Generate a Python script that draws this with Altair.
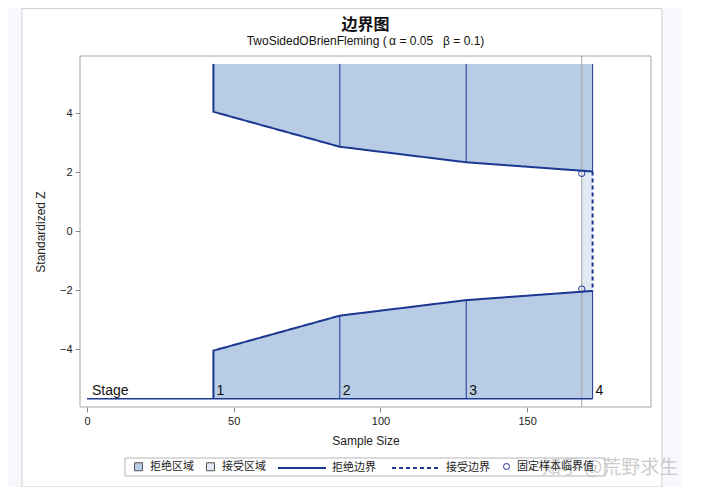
import altair as alt
import pandas as pd

# ---- data ----
stages = [1, 2, 3, 4]
sample_sizes = [43.08, 86.15, 129.23, 172.3]
upper_z = [4.049, 2.863, 2.337, 2.024]
lower_z = [-4.049, -2.863, -2.337, -2.024]
fixed_n = 168.6
fixed_crit = [1.96, -1.96]
z_top = 5.67
z_bottom = -5.68
x_ticks = [0, 50, 100, 150]
y_ticks = [-4, -2, 0, 2, 4]
region_labels = ["拒绝区域", "接受区域"]
boundary_labels = ["拒绝边界", "接受边界"]
point_label = "固定样本临界值"
stage_title = "Stage"
title_text = "边界图"
subtitle_text = "TwoSidedOBrienFleming (\u2009α = 0.05\u00a0\u00a0 β = 0.1)"
watermark = "知乎 @荒野求生"

W, H = 571, 351
FILL_REJ = "#b9cce6"
FILL_ACC = "#e1e9f4"
LINE = "#1b3791"
FONT = "Liberation Sans, Arial, Noto Sans CJK SC"
CJK = "Noto Sans CJK SC"

xs = alt.Scale(domain=[-2.39, 192.2], nice=False, zero=False)
ys = alt.Scale(domain=[-5.96, 5.94], nice=False, zero=False)

xaxis = alt.Axis(values=x_ticks, title="Sample Size", domain=False, grid=False,
                 tickColor="#8c8c8c", tickSize=5, labelFontSize=11, labelColor="#222",
                 titleFontSize=12, titleFontWeight="normal", titleColor="#222",
                 labelPadding=3, titlePadding=9, zindex=1, format="d")
yaxis = alt.Axis(values=y_ticks, title="Standardized Z", domain=False, grid=False,
                 tickColor="#8c8c8c", tickSize=5, labelFontSize=11, labelColor="#222",
                 titleFontSize=12, titleFontWeight="normal", titleColor="#222",
                 labelPadding=3, titlePadding=12, zindex=1, format="d")
X = alt.X("x:Q", scale=xs, axis=xaxis)
Y = alt.Y("y:Q", scale=ys, axis=yaxis)

fill_scale = alt.Scale(domain=region_labels, range=[FILL_REJ, FILL_ACC])
fill_legend = alt.Legend(title=None, orient="none", legendX=53, legendY=405,
                         direction="horizontal", symbolType="square", symbolSize=64,
                         symbolStrokeColor="#555", symbolStrokeWidth=1,
                         labelFontSize=11, labelFont=CJK, labelColor="#222",
                         labelOffset=6, columnPadding=10, zindex=2)

# upper / lower rejection regions
up_df = pd.DataFrame({"x": sample_sizes, "y": upper_z, "y2": [z_top] * 4,
                      "region": region_labels[0]})
lo_df = pd.DataFrame({"x": sample_sizes, "y": [z_bottom] * 4, "y2": lower_z,
                      "region": region_labels[0]})
area_up = alt.Chart(up_df).mark_area(opacity=1).encode(
    x=X, y=Y, y2="y2:Q",
    fill=alt.Fill("region:N", scale=fill_scale, legend=fill_legend))
area_lo = alt.Chart(lo_df).mark_area(opacity=1).encode(
    x=X, y=Y, y2="y2:Q",
    fill=alt.Fill("region:N", scale=fill_scale, legend=fill_legend))

acc_df = pd.DataFrame({"x": [fixed_n], "x2": [sample_sizes[-1]],
                       "y": [lower_z[-1]], "y2": [upper_z[-1]],
                       "region": [region_labels[1]]})
acc_rect = alt.Chart(acc_df).mark_rect(opacity=1).encode(
    x=X, x2="x2:Q", y=Y, y2="y2:Q",
    fill=alt.Fill("region:N", scale=fill_scale, legend=fill_legend))

# thin stage rules
rule_rows = []
for n, u, l in zip(sample_sizes, upper_z, lower_z):
    rule_rows.append({"x": n, "y": u, "y2": z_top})
    rule_rows.append({"x": n, "y": z_bottom, "y2": l})
stage_rules = alt.Chart(pd.DataFrame(rule_rows)).mark_rule(color=LINE, strokeWidth=1).encode(
    x=X, y=Y, y2="y2:Q")

# fixed sample reference line
fixed_rule = alt.Chart(pd.DataFrame({"x": [fixed_n]})).mark_rule(
    color="#a3a3a3", strokeWidth=1).encode(x=X)

# stage base line
base_df = pd.DataFrame({"x": [0], "x2": [sample_sizes[-1]], "y": [z_bottom]})
base_line = alt.Chart(base_df).mark_rule(color=LINE, strokeWidth=1.5).encode(
    x=X, x2="x2:Q", y=Y)

# boundary lines
line_rows = []
line_rows.append({"x": sample_sizes[0], "y": z_top, "seg": "up", "b": boundary_labels[0], "o": 0})
for i, (n, u) in enumerate(zip(sample_sizes, upper_z)):
    line_rows.append({"x": n, "y": u, "seg": "up", "b": boundary_labels[0], "o": i + 1})
line_rows.append({"x": sample_sizes[0], "y": z_bottom, "seg": "lo", "b": boundary_labels[0], "o": 0})
for i, (n, l) in enumerate(zip(sample_sizes, lower_z)):
    line_rows.append({"x": n, "y": l, "seg": "lo", "b": boundary_labels[0], "o": i + 1})
line_rows.append({"x": sample_sizes[-1], "y": upper_z[-1], "seg": "acc", "b": boundary_labels[1], "o": 0})
line_rows.append({"x": sample_sizes[-1], "y": lower_z[-1], "seg": "acc", "b": boundary_labels[1], "o": 1})
lines = alt.Chart(pd.DataFrame(line_rows)).mark_line(color=LINE, strokeWidth=2).encode(
    x=X, y=Y, detail="seg:N", order="o:Q",
    strokeDash=alt.StrokeDash("b:N", scale=alt.Scale(domain=boundary_labels, range=[[1, 0], [4, 3]]),
                              legend=alt.Legend(title=None, orient="none", legendX=197, legendY=387,
                                                direction="horizontal", symbolType="stroke",
                                                symbolSize=2304, symbolStrokeWidth=2,
                                                labelFontSize=11, labelFont=CJK, labelColor="#222",
                                                labelOffset=5, columnPadding=12, zindex=2)))

# fixed sample critical values
pt_df = pd.DataFrame({"x": [fixed_n] * 2, "y": fixed_crit, "ref": [point_label] * 2})
points = alt.Chart(pt_df).mark_point(filled=False, color=LINE, size=40, strokeWidth=1, opacity=1).encode(
    x=X, y=Y,
    shape=alt.Shape("ref:N", scale=alt.Scale(domain=[point_label], range=["circle"]),
                    legend=alt.Legend(title=None, orient="none", legendX=421, legendY=405,
                                      symbolSize=36, symbolStrokeWidth=1,
                                      labelFontSize=11, labelFont=CJK, labelColor="#222",
                                      labelOffset=5, zindex=2)))

# stage labels
stage_txt = alt.Chart(pd.DataFrame({"x": [0], "y": [z_bottom], "t": [stage_title]})).mark_text(
    align="left", baseline="alphabetic", dx=5, dy=-4, fontSize=14, color="#111", font=FONT).encode(
    x=X, y=Y, text="t:N")
num_txt = alt.Chart(pd.DataFrame({"x": sample_sizes, "y": [z_bottom] * 4,
                                  "t": [str(s) for s in stages]})).mark_text(
    align="left", baseline="alphabetic", dx=3, dy=-4, fontSize=14, color="#111", font=FONT).encode(
    x=X, y=Y, text="t:N")

# decorations: outer frame, plot frame, legend box, watermark
outer = alt.Chart(pd.DataFrame({"a": [0]})).mark_rect(
    fill="white", stroke="#cfcfcf", strokeWidth=1).encode(
    x=alt.value(-58), x2=alt.value(582), y=alt.value(-47.5), y2=alt.value(431))
frame = alt.Chart(pd.DataFrame({"a": [0]})).mark_rect(
    fill="white", fillOpacity=0, stroke="#a5a5a5", strokeWidth=1).encode(
    x=alt.value(0), x2=alt.value(W), y=alt.value(0), y2=alt.value(H))
legbox = alt.Chart(pd.DataFrame({"a": [0]})).mark_rect(
    fill="white", fillOpacity=0, stroke="#b5b5b5", strokeWidth=1).encode(
    x=alt.value(45), x2=alt.value(525), y=alt.value(402), y2=alt.value(420))
wm = alt.Chart(pd.DataFrame({"t": [watermark]})).mark_text(
    align="left", baseline="middle", fontSize=19, color="#c4c4c4", opacity=0.85, font=CJK).encode(
    x=alt.value(462), y=alt.value(412), text="t:N")

chart = alt.layer(
    outer, legbox, area_up, area_lo, acc_rect, fixed_rule, stage_rules, base_line,
    lines, points, stage_txt, num_txt, frame, wm
).properties(
    width=W, height=H,
    autosize="none",
    padding={"left": 72, "top": 48, "right": 30, "bottom": 80},
    background="#f7f8fc",
    title=alt.TitleParams(text=title_text, subtitle=subtitle_text, anchor="middle",
                          font=CJK, fontSize=16, fontWeight="bold", color="#111",
                          subtitleFont=FONT, subtitleFontSize=12, subtitleColor="#111",
                          subtitlePadding=3, offset=-39, zindex=2)
).configure_view(stroke=None).configure(font=FONT)

chart.save("out.html", embed_options={"renderer": "svg", "actions": False})
